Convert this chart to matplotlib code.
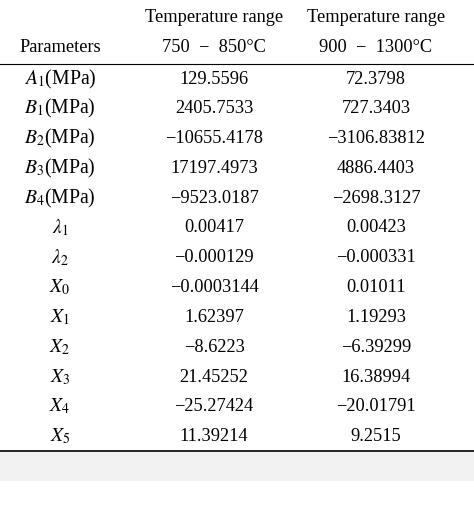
import matplotlib
matplotlib.use("Agg")
from matplotlib import pyplot as plt

params = ["$A_1$(MPa)", "$B_1$(MPa)", "$B_2$(MPa)", "$B_3$(MPa)", "$B_4$(MPa)",
          "$\\lambda_1$", "$\\lambda_2$", "$X_0$", "$X_1$", "$X_2$", "$X_3$", "$X_4$", "$X_5$"]
low_range = ["129.5596", "2405.7533", "\u221210655.4178", "17197.4973", "\u22129523.0187",
             "0.00417", "\u22120.000129", "\u22120.0003144", "1.62397", "\u22128.6223",
             "21.45252", "\u221225.27424", "11.39214"]
high_range = ["72.3798", "727.3403", "\u22123106.83812", "4886.4403", "\u22122698.3127",
              "0.00423", "\u22120.000331", "0.01011", "1.19293", "\u22126.39299",
              "16.38994", "\u221220.01791", "9.2515"]

plt.rcParams["font.family"] = ["Liberation Serif", "DejaVu Serif"]
plt.rcParams["mathtext.fontset"] = "stix"

W, H = 474, 505
fig = plt.figure(figsize=(W / 100, H / 100), dpi=100)
ax = fig.add_axes([0, 0, 1, 1])
ax.set_xlim(0, W)
ax.set_ylim(H, 0)
ax.axis("off")

fs = 13.2
xs = [60, 214, 376]
ax.text(xs[1], 18, "Temperature range", ha="center", va="center", fontsize=fs)
ax.text(xs[2], 18, "Temperature range", ha="center", va="center", fontsize=fs)
ax.text(xs[0], 48, "Parameters", ha="center", va="center", fontsize=fs)
ax.text(xs[1], 48, "750  \u2212  850\u00b0C", ha="center", va="center", fontsize=fs)
ax.text(xs[2], 48, "900  \u2212  1300\u00b0C", ha="center", va="center", fontsize=fs)
ax.plot([0, W], [64, 64], color="black", lw=0.8)

y0, dy = 79, 29.8
for i, (p, a, b) in enumerate(zip(params, low_range, high_range)):
    y = y0 + i * dy
    ax.text(xs[0], y, p, ha="center", va="center", fontsize=fs + 1)
    ax.text(xs[1], y, a, ha="center", va="center", fontsize=fs)
    ax.text(xs[2], y, b, ha="center", va="center", fontsize=fs)

ax.plot([0, W], [451, 451], color="black", lw=1.2)
ax.add_patch(plt.Rectangle((0, 452), W, 29, color="#f2f2f2", lw=0))

fig.savefig("out.png", dpi=100)
